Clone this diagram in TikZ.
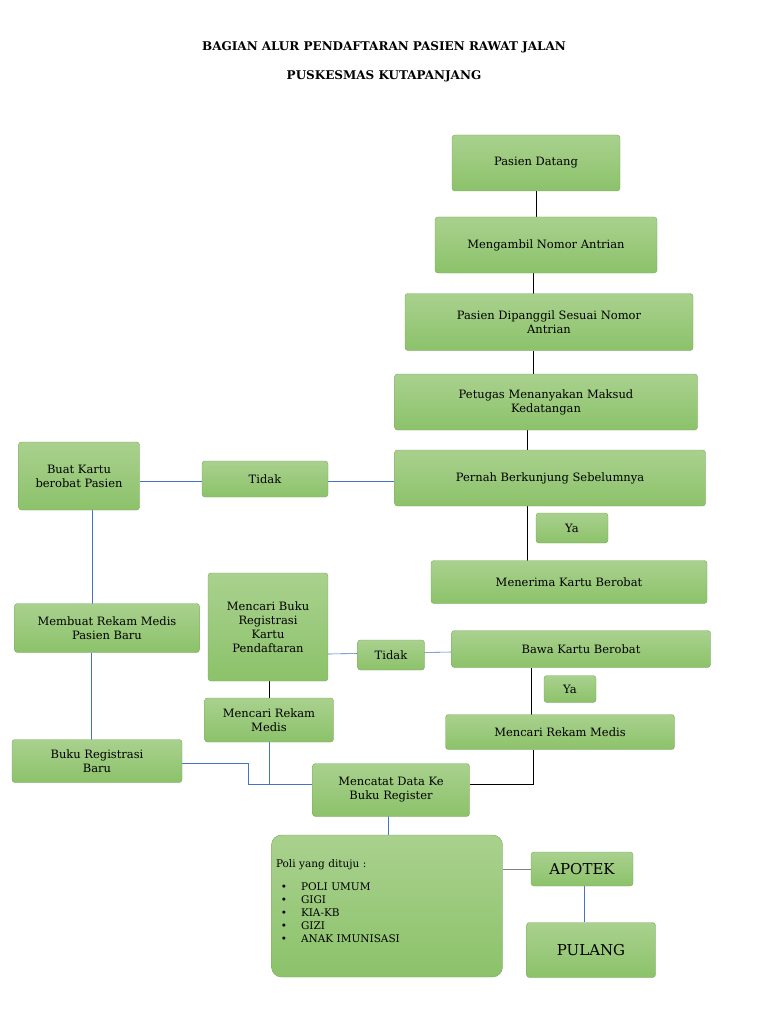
\documentclass[tikz,border=0pt]{standalone}
\usepackage{fontspec}
\setmainfont{DejaVu Serif}
\usepackage{tikz}
\definecolor{boxtop}{HTML}{A9D18E}
\definecolor{boxbot}{HTML}{8CC26A}
\definecolor{boxline}{HTML}{7BA65E}
\definecolor{blueline}{HTML}{4472C4}
\tikzset{
  box/.style={draw=boxline, top color=boxtop, bottom color=boxbot, rounded corners=3pt,
    align=center, font=\fontsize{11.5}{14}\selectfont, inner sep=2pt},
  bl/.style={blueline, line width=0.6pt},
  bk/.style={black, line width=0.8pt}
}
\newcommand{\bx}[6]{\node[box, minimum width=#4pt, minimum height=#5pt] (#1) at (#2,#3) {#6};}
\begin{document}
\begin{tikzpicture}[x=1pt,y=-1pt]
	\useasboundingbox (0,0) rectangle (768,1024);
	% Title
	\node[font=\bfseries\fontsize{12}{15}\selectfont] (t1) at (384,47) {BAGIAN ALUR PENDAFTARAN PASIEN RAWAT JALAN};
	\node[font=\bfseries\fontsize{12}{15}\selectfont] (t2) at (384,76) {PUSKESMAS KUTAPANJANG};
	
	% Lines first (behind boxes)
	\draw[bk] (536,191) -- (536,217);
	\draw[bk] (533,273) -- (533,294);
	\draw[bk] (533,351) -- (533,374);
	\draw[bk] (527,430) -- (527,450);
	\draw[bk] (527,506) -- (527,561);
	\draw[bk] (531,668) -- (531,715);
	\draw[bk] (533,750) -- (533,784) -- (470,784);
	\draw[bl] (140,481) -- (395,481);
	\draw[bl] (92,510) -- (92,604);
	\draw[bl] (91,653) -- (91,740);
	\draw[bl] (182,763) -- (248,763) -- (248,784) -- (313,784);
	\draw[bk] (269,681) -- (269,698);
	\draw[bl] (269,742) -- (269,784);
	\draw[bl] (328,654) -- (452,652);
	\draw[bl] (388,816) -- (388,835);
	\draw[black!50, line width=0.6pt] (503,869) -- (531,869);
	\draw[bl] (584,886) -- (584,922);
	
	% Boxes
	\bx{datang}{536}{163}{168}{56}{Pasien Datang}
	\bx{nomor}{546}{245}{222}{56}{Mengambil Nomor Antrian}
	\bx{panggil}{549}{322}{288}{57}{Pasien Dipanggil Sesuai Nomor\\Antrian}
	\bx{petugas}{546}{402}{303}{56}{Petugas Menanyakan Maksud\\Kedatangan}
	\bx{pernah}{550}{478}{311}{56}{Pernah Berkunjung Sebelumnya}
	\bx{ya1}{572}{528}{72}{30}{Ya}
	\bx{terima}{569}{582}{276}{43}{Menerima Kartu Berobat}
	\bx{bawa}{581}{649}{259}{37}{Bawa Kartu Berobat}
	\bx{ya2}{570}{689}{52}{27}{Ya}
	\bx{rekamk}{560}{732}{229}{35}{Mencari Rekam Medis}
	\bx{tidak1}{265}{479}{126}{36}{Tidak}
	\bx{kartu}{79}{476}{121}{68}{Buat Kartu\\berobat Pasien}
	\bx{baru}{107}{628}{185}{49}{Membuat Rekam Medis\\Pasien Baru}
	\bx{regbaru}{97}{761}{170}{43}{Buku Registrasi\\Baru}
	\bx{buku}{268}{627}{120}{108}{Mencari Buku\\Registrasi\\Kartu\\Pendaftaran}
	\bx{tidak2}{391}{655}{67}{30}{Tidak}
	\bx{rekamt}{269}{720}{129}{44}{Mencari Rekam\\Medis}
	\bx{catat}{391}{790}{157}{53}{Mencatat Data Ke\\Buku Register}
	\node[box, minimum width=231pt, minimum height=142pt, text width=222pt, align=left, rounded corners=10pt, font=\fontsize{10.5}{13}\selectfont] (poli) at (387,906) {%
	  Poli yang dituju :\\[-4pt]
	  \begin{itemize}\setlength{\itemsep}{-4pt}\setlength{\leftmargin}{50pt}\setlength{\labelsep}{14pt}
	  \item POLI UMUM
	  \item GIGI
	  \item KIA-KB
	  \item GIZI
	  \item ANAK IMUNISASI
	  \end{itemize}\vspace{-6pt}};
	\node[box, minimum width=102pt, minimum height=34pt, font=\fontsize{15}{18}\selectfont] (apotek) at (582,869) {APOTEK};
	\node[box, minimum width=129pt, minimum height=55pt, font=\fontsize{15}{18}\selectfont] (pulang) at (591,950) {PULANG};
\end{tikzpicture}
\end{document}
